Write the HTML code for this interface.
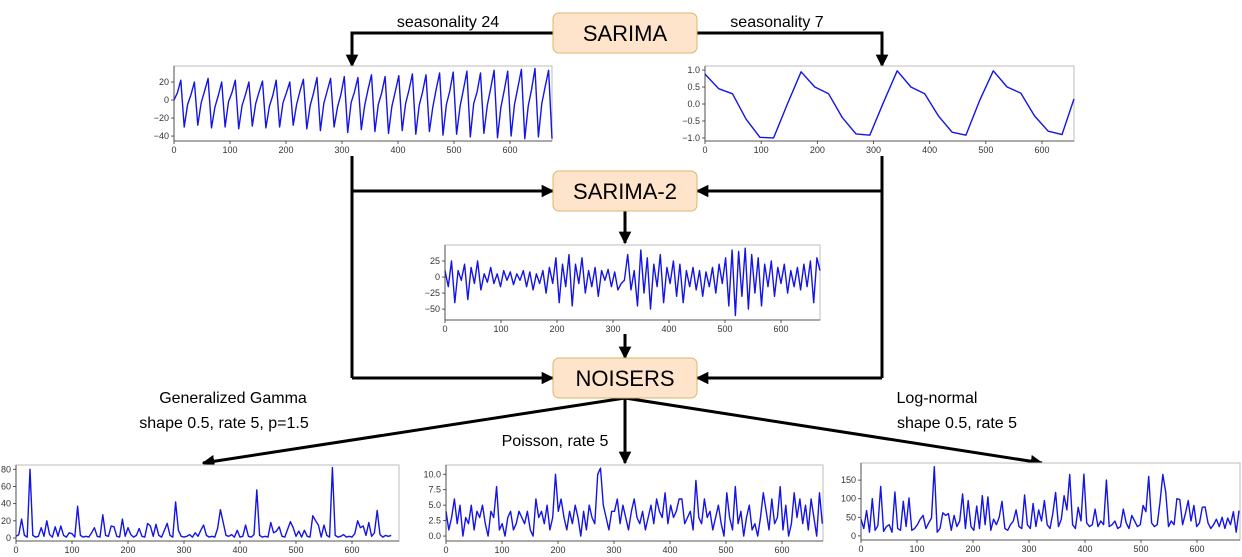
<!DOCTYPE html>
<html><head><meta charset="utf-8">
<style>
html,body{margin:0;padding:0;background:#fff;}
svg{display:block;font-family:"Liberation Sans",sans-serif;}
</style></head>
<body>
<svg id="s" width="1242" height="557" viewBox="0 0 1242 557">
<defs>
<marker id="ah" viewBox="0 0 10 10" refX="9" refY="5" markerWidth="4.2" markerHeight="4.2" orient="auto" markerUnits="strokeWidth">
<path d="M0,0 L10,5 L0,10 z" fill="#000"/>
</marker>
</defs>
<g stroke="#000" stroke-width="3" fill="none">
<polyline points="553,33 352,33 352,66" marker-end="url(#ah)"/>
<polyline points="697,33 882,33 882,66" marker-end="url(#ah)"/>
<line x1="352" y1="156" x2="352" y2="378"/>
<line x1="882" y1="156" x2="882" y2="378"/>
<line x1="352" y1="191" x2="553" y2="191" marker-end="url(#ah)"/>
<line x1="882" y1="191" x2="697" y2="191" marker-end="url(#ah)"/>
<line x1="352" y1="378" x2="553" y2="378" marker-end="url(#ah)"/>
<line x1="882" y1="378" x2="697" y2="378" marker-end="url(#ah)"/>
<line x1="625" y1="210" x2="625" y2="243" marker-end="url(#ah)"/>
<line x1="625" y1="334" x2="625" y2="358" marker-end="url(#ah)"/>
<line x1="625" y1="398" x2="203" y2="463" marker-end="url(#ah)"/>
<line x1="625" y1="398" x2="625" y2="463" marker-end="url(#ah)"/>
<line x1="625" y1="398" x2="1042" y2="463" marker-end="url(#ah)"/>
</g>
<g>
<rect x="553" y="13" width="144" height="40" rx="6" fill="#fde4cb" stroke="#dcb66c" stroke-width="1"/>
<text x="625" y="41" text-anchor="middle" font-size="22">SARIMA</text>
</g>
<g>
<rect x="553" y="171" width="144" height="40" rx="6" fill="#fde4cb" stroke="#dcb66c" stroke-width="1"/>
<text x="625" y="199" text-anchor="middle" font-size="22">SARIMA-2</text>
</g>
<g>
<rect x="553" y="358" width="144" height="40" rx="6" fill="#fde4cb" stroke="#dcb66c" stroke-width="1"/>
<text x="625" y="386" text-anchor="middle" font-size="22">NOISERS</text>
</g>
<g font-size="16" fill="#000">
<text x="448" y="27" text-anchor="middle">seasonality 24</text>
<text x="777" y="27" text-anchor="middle">seasonality 7</text>
<text x="233" y="403" text-anchor="middle">Generalized Gamma</text>
<text x="224" y="428" text-anchor="middle">shape 0.5, rate 5, p=1.5</text>
<text x="555" y="446" text-anchor="middle">Poisson, rate 5</text>
<text x="937" y="403" text-anchor="middle">Log-normal</text>
<text x="957" y="428" text-anchor="middle">shape 0.5, rate 5</text>
</g>
<g id="charts"></g>
</svg>
<script>
const xTicks=[0,100,200,300,400,500,600];
const s24Values=[0,8,22,-30,-5,6,20,-28,-3,10,24,-31,-8,5,20,-30,-2,8,22,-32,-6,6,20,-29,-4,9,21,-31,-7,5,22,-30,-3,8,20,-28,-5,10,23,-32,
-6,8,25,-34,-4,10,24,-30,-8,6,26,-36,-3,9,25,-33,-6,12,28,-35,-5,8,26,-37,-7,10,27,-34,-4,11,29,-38,-6,9,28,-35,-8,12,30,-39,
-5,10,31,-38,-7,12,32,-41,-4,9,30,-37,-6,13,33,-42,-8,11,32,-40,-5,14,34,-43,-7,12,35,-41,-4,15,33,-43];
const s24YTicks=[20,0,-20,-40];
const s7Values=[0.88,0.45,0.3,-0.45,-0.98,-1.0,0,0.95,0.5,0.3,-0.4,-0.88,-0.92,0.05,0.98,0.5,0.3,-0.35,-0.83,-0.92,0.1,0.98,0.5,0.32,-0.35,-0.8,-0.9,0.15];
const s7YTicks=[1.0,0.5,0.0,-0.5,-1.0];
const s2Values=[10,-15,25,-40,10,-5,20,-35,15,-10,25,-20,5,-8,15,-10,5,-15,10,-5,8,-12,5,-5,10,-15,8,-20,5,-10,10,-25,15,-10,30,-40,20,-15,35,-45,20,-10,30,-25,10,-15,15,-30,10,-5,12,-15,8,-20,-10,-5,35,-20,10,-45,42,-25,30,-50,20,-15,35,-40,15,-10,25,-30,20,-40,10,-15,15,-20,10,-30,8,-15,15,-25,20,-10,30,-45,42,-60,40,-30,45,-50,35,-25,30,-45,20,-15,25,-30,15,-10,20,-25,10,-15,15,-20,20,-15,25,-40,30,10];
const s2YTicks=[25,0,-25,-50];
const gammaValues=[2,4,22,3,1,80,3,1,2,12,2,20,4,1,13,2,14,3,1,6,5,1,37,3,1,2,1,6,12,2,1,27,3,2,14,13,2,1,22,2,12,4,1,3,11,2,1,17,14,2,16,3,1,9,17,3,1,42,9,2,1,2,4,1,6,2,9,15,3,1,2,1,11,33,18,3,2,4,1,9,1,2,15,2,1,4,56,3,1,2,1,18,6,8,13,2,1,10,19,12,2,8,1,9,2,1,26,20,15,1,15,3,1,82,3,1,2,4,1,2,1,5,20,12,14,3,18,2,6,32,4,1,3,2,3];
const gammaYTicks=[0,20,40,60,80];
const poissonValues=[4,1,3,6,2,5,0,3,2,5,1,4,3,5,2,0,4,3,8,1,2,0,3,4,1,2,4,3,2,4,1,0,6,3,4,2,5,1,3,10,4,6,3,1,4,2,5,3,0,4,1,5,3,2,10,11,5,3,1,4,4,6,2,5,3,1,4,6,3,2,4,1,3,5,2,6,4,3,7,2,5,3,4,6,6,2,3,4,1,9,3,2,6,3,4,1,3,5,2,0,7,3,1,8,2,4,0,3,5,1,2,0,3,7,4,1,6,2,3,8,1,5,0,2,7,3,6,2,5,1,6,3,0,7,2];
const poissonYTicks=[0.0,2.5,5.0,7.5,10.0];
const lognormValues=[45,20,68,10,100,15,28,133,12,25,30,10,118,20,15,93,25,102,15,20,30,45,55,20,35,48,186,10,20,62,55,60,15,55,25,40,113,20,95,25,15,80,20,108,30,105,15,45,30,50,93,20,15,30,40,70,25,20,110,30,20,87,25,70,40,95,30,20,60,117,25,45,108,70,165,30,20,77,40,166,35,25,30,72,25,40,30,150,25,30,40,20,25,72,35,20,55,40,25,30,82,65,160,35,25,30,90,165,118,25,40,30,100,98,30,60,95,40,82,25,35,77,78,35,20,30,45,25,50,20,48,30,65,10,68];
const lognormYTicks=[0,50,100,150];

const charts=[
 {name:'seasonality-24-chart',vals:s24Values,yt:s24YTicks,x0:174,x1:552,y0:66,y1:141,xmax:675,ymin:-45.5,ymax:37.8,dp:0},
 {name:'seasonality-7-chart',vals:s7Values,yt:s7YTicks,x0:705,x1:1074,y0:66,y1:141,xmax:660,ymin:-1.09,ymax:1.12,dp:1},
 {name:'sarima2-chart',vals:s2Values,yt:s2YTicks,x0:445,x1:820,y0:245,y1:320,xmax:670,ymin:-67,ymax:50,dp:0},
 {name:'gamma-noise-chart',vals:gammaValues,yt:gammaYTicks,x0:16,x1:399,y0:465,y1:541,xmax:670,ymin:-3.5,ymax:85,dp:0},
 {name:'poisson-noise-chart',vals:poissonValues,yt:poissonYTicks,x0:446,x1:823,y0:465,y1:541,xmax:672,ymin:-0.8,ymax:11.5,dp:1},
 {name:'lognormal-noise-chart',vals:lognormValues,yt:lognormYTicks,x0:861,x1:1240,y0:463,y1:540,xmax:675,ymin:-11,ymax:196,dp:0}
];
const NS='http://www.w3.org/2000/svg';
const root=document.getElementById('charts');
function mk(tag,attrs,parent){const e=document.createElementNS(NS,tag);for(const k in attrs)e.setAttribute(k,attrs[k]);parent.appendChild(e);return e;}
charts.forEach(c=>{
 const g=mk('g',{},root);
 
 
 const ppu=(c===charts[1])?(1042-705)/600:56/100;
 const xs=v=>c.x0+v*ppu;
 const ys=v=>c.y1-(v-c.ymin)/(c.ymax-c.ymin)*(c.y1-c.y0);
 const frame=mk('rect',{x:c.x0,y:c.y0,width:c.x1-c.x0,height:c.y1-c.y0,fill:'#fff',stroke:'#bdbdbd','stroke-width':1},g);
 
 
 const n=c.vals.length;
 const step=c.xmax/(n-1);
 let pts=c.vals.map((v,i)=>Math.min(c.x1,xs(i*step)).toFixed(1)+','+ys(v).toFixed(1)).join(' ');
 const line=mk('polyline',{points:pts,fill:'none',stroke:'#1414e6','stroke-width':1.4,'stroke-linejoin':'round'},g);
 
 
 mk('line',{x1:c.x0,y1:c.y0,x2:c.x0,y2:c.y1,stroke:'#333','stroke-width':0.8},g);
 mk('line',{x1:c.x0,y1:c.y1,x2:c.x1,y2:c.y1,stroke:'#333','stroke-width':0.8},g);
 xTicks.forEach(t=>{
  const x=xs(t);
  mk('line',{x1:x,y1:c.y1,x2:x,y2:c.y1+3,stroke:'#333','stroke-width':0.8},g);
  const tx=mk('text',{x:x,y:c.y1+12,'text-anchor':'middle','font-size':9,fill:'#333'},g);
  tx.textContent=t;
  
  
 });
 c.yt.forEach(t=>{
  const y=ys(t);
  mk('line',{x1:c.x0-3,y1:y,x2:c.x0,y2:y,stroke:'#333','stroke-width':0.8},g);
  const tx=mk('text',{x:c.x0-5,y:y+3,'text-anchor':'end','font-size':9,fill:'#333'},g);
  tx.textContent=(t<0?'\u2212':'')+Math.abs(t).toFixed(c.dp);
  
  
 });
});
</script>
</body></html>
